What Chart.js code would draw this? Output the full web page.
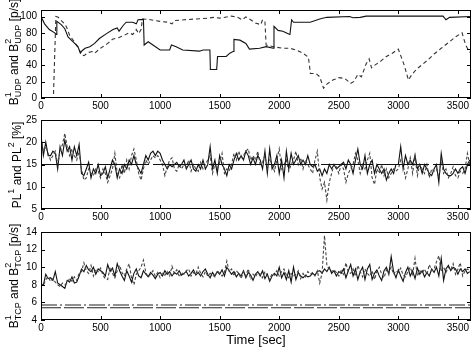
<!DOCTYPE html>
<html>
<head>
<meta charset="utf-8">
<script src="https://cdn.jsdelivr.net/npm/chart.js@4.4.0/dist/chart.umd.min.js"></script>
<style>
  html, body { margin: 0; padding: 0; background: #fff; }
  #wrap { position: relative; width: 474px; height: 348px; }
  .panel { position: absolute; left: 0; width: 474px; }
</style>
</head>
<body>
<div id="wrap">
  <div class="panel" style="top:0;height:110px"><canvas id="udp"></canvas></div>
  <div class="panel" style="top:110px;height:112px"><canvas id="pl"></canvas></div>
  <div class="panel" style="top:222px;height:126px"><canvas id="tcp"></canvas></div>
</div>
<script>
// ---- data ----
const xTicks = [0, 500, 1000, 1500, 2000, 2500, 3000, 3500];
const xMax = 3610;

// UDP bandwidth, flow 1 (solid) and flow 2 (dashed) [p/s]
const udpTime1 = [0, 30, 70, 115, 128, 133, 170, 200, 227, 270, 310, 330, 345, 370, 410, 450, 490, 550, 605, 640, 655, 690, 715, 770, 800, 815, 860, 866, 900, 940, 1000, 1080, 1095, 1135, 1190, 1330, 1360, 1418, 1422, 1475, 1482, 1555, 1585, 1612, 1620, 1670, 1720, 1750, 1835, 1890, 1950, 1956, 1990, 2030, 2075, 2090, 2104, 2120, 2260, 2340, 2400, 2590, 2620, 2680, 2730, 3375, 3400, 3430, 3610];
const udpB1 = [100, 91, 84, 80, 78, 94, 90, 85, 75, 69, 63, 55, 58, 61, 63, 67, 73, 79, 84, 86, 82, 89, 93, 93, 91, 96, 96.5, 65, 69, 65, 59, 59, 65, 63, 59, 57.5, 59, 59, 35, 35, 51, 51, 55, 57, 72, 71, 67, 60, 61, 63, 61, 88, 83, 82, 79, 78, 96, 93, 93, 97, 99, 100, 98.5, 99, 100.5, 100.5, 96, 99, 100];
const udpTime2 = [105, 125, 145, 170, 200, 215, 240, 280, 320, 340, 360, 400, 430, 450, 500, 560, 600, 650, 700, 740, 770, 800, 820, 840, 852, 900, 1000, 1070, 1100, 1120, 1200, 1300, 1400, 1450, 1500, 1600, 1650, 1690, 1720, 1760, 1800, 1845, 1860, 1880, 1890, 1950, 2030, 2090, 2140, 2200, 2245, 2262, 2310, 2340, 2372, 2400, 2450, 2500, 2550, 2600, 2625, 2660, 2690, 2730, 2755, 2775, 2800, 2850, 2900, 2950, 3000, 3020, 3050, 3085, 3110, 3150, 3200, 3250, 3300, 3360, 3420, 3480, 3535, 3565, 3600];
const udpB2 = [5, 100, 99, 95, 91, 87, 77, 69, 60, 53, 52, 56, 57, 55, 61, 67, 72, 74, 77, 80, 78, 84, 79, 84, 97, 96.5, 94, 93, 91, 95, 96, 97, 98, 99, 98, 100.5, 99, 96, 99.5, 96, 92, 90, 96, 94, 65, 63, 61, 61, 59, 55, 50, 30, 30, 26, 12, 17, 22, 25, 24, 18, 20, 29, 26, 42, 48, 37, 40, 45, 51, 55, 60, 52, 40, 22, 28, 35, 41, 47, 54, 61, 68, 75, 80, 65, 56];

// PL and TCP series sampled every 20 s, t = 0 .. 3600
const sampleStep = 20;
const plTarget = 15;
const pl1 = [
  21.5, 17, 20, 17, 17, 18, 17.5, 14, 19, 17,
  20.5, 18, 19, 16, 19, 17, 19.5, 13, 12.5, 14,
  15.5, 12, 14, 13, 15, 12.5, 13, 14.5, 12, 14,
  16, 15, 12, 14, 13, 15, 14, 16, 15, 17,
  15, 14, 13, 15, 17, 16, 17.5, 18, 17, 18,
  17.5, 16, 15, 14, 15, 14.5, 15, 15.5, 14.5, 15,
  16, 14, 15, 16, 14, 13.5, 15, 14, 16, 14,
  15, 19, 14, 16, 13, 17, 15, 14, 12.5, 15,
  14, 16, 17.5, 16, 17, 16, 18, 17, 15, 16.5,
  15, 17, 16, 14, 18, 13, 18.5, 14, 15, 17,
  13, 16, 12, 18, 14, 17.5, 15, 16, 17, 15,
  16, 15, 17, 15, 14.5, 15, 13.5, 14, 12.5, 14,
  13, 15, 14, 15, 14, 14.5, 15, 15.5, 14, 16,
  15, 13, 16, 18.5, 15, 14, 17, 13, 15, 16,
  13, 15, 14, 13, 14, 11.5, 13, 14, 13, 15,
  15, 19, 14, 17, 15, 16, 15, 17, 14, 15,
  13, 15, 14, 13, 12.5, 14, 15, 11, 17.5, 14,
  13, 12.5, 12.5, 13, 14, 13, 14, 14.5, 13, 15,
  16
];
const pl2 = [
  21, 18, 19, 17.5, 16, 17, 18, 15, 18, 19.5,
  22, 19, 17, 18.5, 17, 16, 18, 14, 11.5, 12,
  14, 13, 12.5, 14, 13.5, 12, 14, 13, 11, 12.5,
  14, 17.5, 13, 12, 15, 13, 16, 14, 17, 18.5,
  16, 13, 11.5, 14, 16, 15, 16, 17, 16.5, 17,
  16, 15, 12.5, 14.5, 16, 16.5, 14, 13.5, 15, 14,
  15, 14.5, 16, 13.5, 15, 14, 13.5, 15.5, 14, 15,
  16, 17, 13, 15, 14, 15.5, 17.5, 13, 14, 13.5,
  15, 17.5, 16, 18, 16.5, 17, 18, 18.5, 16, 17,
  16, 18, 15, 15.5, 17, 14, 16, 15, 13.5, 16,
  18.5, 14, 15, 16, 13.5, 15, 16, 18, 15, 16.5,
  14, 16, 15, 14, 13, 16, 18, 12, 9.5, 11,
  7, 11, 13, 15, 14.5, 13, 15, 14, 11, 13,
  14, 15, 17.5, 16, 13, 15, 14, 16, 17.5, 12,
  10.5, 14, 13, 15, 12.5, 14, 12, 13, 14, 13.5,
  14, 16, 15, 12, 14, 16.5, 13, 17, 12.5, 15,
  14, 13, 15, 12, 14, 13.5, 14, 12, 16, 13,
  14, 12, 13, 14.5, 12.5, 12, 13.5, 13, 14, 17.5,
  15
];

const tcpRef1 = 5.7;
const tcpRef2 = 5.4;
const tcp1 = [
  8.0, 8.0, 9.2, 8.7, 8.8, 8.5, 9.5, 8.2, 8.0, 7.8,
  7.6, 8.5, 8.3, 8.9, 8.2, 8.3, 9.0, 9.8, 9.5, 10.2,
  9.7, 9.5, 10.0, 9.2, 9.8, 9.6, 9.4, 9.0, 10.3, 9.5,
  9.9, 9.0, 10.4, 9.6, 9.0, 8.5, 9.6, 9.0, 8.3, 9.3,
  9.8, 9.0, 8.8, 9.6, 9.2, 8.9, 9.4, 9.1, 8.7, 9.2,
  9.4, 9.0, 9.6, 9.2, 9.5, 9.0, 9.4, 9.2, 9.6, 9.1,
  9.3, 9.5, 9.0, 9.3, 9.7, 9.1, 9.4, 9.0, 9.5, 9.8,
  9.2, 8.8, 9.4, 9.0, 9.5, 9.2, 9.7, 9.0, 10.0, 9.6,
  9.2, 9.5, 8.9, 9.3, 9.0, 9.6, 8.8, 9.4, 9.1, 8.5,
  9.2, 9.5, 9.0, 9.6, 8.7, 9.2, 8.4, 9.0, 9.3, 9.0,
  10.0, 8.8, 9.4, 8.6, 9.6, 8.3, 10.0, 8.6, 9.4, 9.0,
  8.8, 9.1, 8.9, 9.0, 9.3, 9.1, 9.5, 9.6, 9.3, 9.8,
  9.5, 10.0, 9.3, 9.6, 9.0, 9.5, 9.3, 9.8, 8.8, 9.6,
  10.3, 9.0, 9.8, 8.6, 9.5, 10.0, 8.6, 9.8, 10.3, 8.6,
  9.3, 9.7, 9.0, 8.5, 9.6, 10.0, 9.2, 11.2, 9.5, 8.8,
  9.7, 9.0, 8.4, 9.4, 10.0, 9.0, 9.6, 8.7, 9.9, 9.2,
  9.6, 8.9, 9.4, 9.0, 9.8, 9.4, 10.0, 9.0, 11.0, 8.5,
  9.8, 10.2, 9.6, 10.0, 9.8, 9.2, 9.8, 9.5, 9.8, 9.3,
  9.5
];
const tcp2 = [
  8.2, 7.9, 8.6, 8.9, 8.4, 8.7, 8.3, 8.0, 7.8, 8.2,
  8.0, 8.2, 8.7, 8.4, 8.9, 8.5, 9.3, 9.5, 10.5, 9.6,
  9.3, 10.2, 9.0, 9.8, 9.5, 9.9, 9.1, 8.7, 8.6, 10.0,
  9.3, 8.8, 9.6, 10.2, 9.4, 9.0, 9.8, 10.4, 8.8, 8.0,
  9.2, 9.6, 10.0, 10.8, 9.4, 8.9, 9.2, 9.6, 9.0, 9.4,
  8.8, 9.3, 9.1, 9.5, 9.0, 10.1, 9.3, 9.7, 8.9, 9.4,
  9.2, 9.6, 9.8, 9.0, 9.4, 9.2, 10.0, 9.3, 8.9, 9.5,
  9.0, 9.3, 9.1, 8.9, 9.6, 9.3, 9.0, 9.4, 10.7, 9.5,
  9.8, 9.0, 9.6, 9.3, 8.7, 9.5, 9.0, 9.8, 8.6, 9.2,
  8.9, 9.4, 9.2, 8.8, 9.5, 9.0, 8.6, 9.3, 9.1, 9.6,
  9.0, 9.5, 9.8, 9.1, 8.8, 9.3, 9.0, 9.2, 9.6, 8.7,
  9.3, 8.9, 9.5, 9.2, 9.4, 9.0, 9.6, 8.2, 9.4, 13.6,
  10.2, 9.8, 9.5, 9.7, 9.4, 9.0, 9.6, 9.2, 10.5, 9.4,
  9.3, 9.8, 9.0, 10.2, 9.5, 8.9, 9.8, 9.3, 9.0, 9.6,
  8.6, 9.5, 10.0, 9.2, 8.8, 9.7, 9.3, 10.0, 9.2, 9.6,
  9.4, 9.9, 9.1, 8.9, 9.5, 10.0, 9.2, 11.0, 9.0, 9.6,
  9.3, 9.8, 9.2, 10.3, 9.6, 9.8, 10.6, 11.3, 9.5, 10.0,
  9.4, 10.0, 9.7, 10.4, 9.2, 9.8, 10.5, 9.0, 9.6, 9.8,
  9.6
];

const udpTicks = [0, 20, 40, 60, 80, 100];
const plTicks = [5, 10, 15, 20, 25];
const tcpTicks = [4, 6, 8, 10, 12, 14];

// ---- helpers ----
const FONT = '"Liberation Sans", Arial, Helvetica, sans-serif';
const tickFont = { family: FONT, size: 10 };

function pairs(ts, vs) {
  return vs.map((v, i) => ({ x: ts[i], y: v }));
}
function sampled(vs) {
  return vs.map((v, i) => ({ x: i * sampleStep, y: v }));
}
function flat(v) {
  return [{ x: 0, y: v }, { x: xMax, y: v }];
}
function line(data, dash, color) {
  return {
    data: data,
    borderColor: color || '#111',
    borderWidth: 1.1,
    borderDash: dash || [],
    pointRadius: 0,
    tension: 0,
    fill: false
  };
}

// box with inward ticks on all four sides
const framePlugin = {
  id: 'frame',
  afterDraw(chart) {
    const { ctx, chartArea: a, scales } = chart;
    const x = scales.x, y = scales.y;
    ctx.save();
    ctx.strokeStyle = '#000';
    ctx.lineWidth = 1;
    ctx.strokeRect(a.left + 0.5, a.top + 0.5, a.right - a.left - 1, a.bottom - a.top - 1);
    ctx.beginPath();
    x.ticks.forEach(t => {
      const px = Math.round(x.getPixelForValue(t.value)) + 0.5;
      ctx.moveTo(px, a.bottom); ctx.lineTo(px, a.bottom - 4);
      ctx.moveTo(px, a.top); ctx.lineTo(px, a.top + 4);
    });
    y.ticks.forEach(t => {
      const py = Math.round(y.getPixelForValue(t.value)) + 0.5;
      ctx.moveTo(a.left, py); ctx.lineTo(a.left + 4, py);
      ctx.moveTo(a.right, py); ctx.lineTo(a.right - 4, py);
    });
    ctx.stroke();
    ctx.restore();
  }
};

// rotated y title with stacked super/subscripts
const yTitlePlugin = {
  id: 'ytitle',
  afterDraw(chart, args, opts) {
    if (!opts.parts) return;
    const ctx = chart.ctx;
    const main = '12px ' + FONT, small = '9px ' + FONT;
    ctx.save();
    let total = 0;
    opts.parts.forEach(p => {
      if (p.n) { ctx.font = main; total += ctx.measureText(p.n).width; }
      else {
        ctx.font = small;
        total += Math.max(ctx.measureText(p.sup || '').width, ctx.measureText(p.sub || '').width);
      }
    });
    ctx.translate(opts.x, opts.y);
    ctx.rotate(-Math.PI / 2);
    ctx.fillStyle = '#000';
    ctx.textBaseline = 'alphabetic';
    ctx.textAlign = 'left';
    let u = -total / 2;
    opts.parts.forEach(p => {
      if (p.n) {
        ctx.font = main;
        ctx.fillText(p.n, u, 0);
        u += ctx.measureText(p.n).width;
      } else {
        ctx.font = small;
        if (p.sup) ctx.fillText(p.sup, u, -7);
        if (p.sub) ctx.fillText(p.sub, u, 3);
        u += Math.max(ctx.measureText(p.sup || '').width, ctx.measureText(p.sub || '').width);
      }
    });
    ctx.restore();
  }
};

function makePanel(id, datasets, yMin, yMax, yTicks, padTop, xHeight, title, showTime) {
  return new Chart(document.getElementById(id), {
    type: 'line',
    data: { datasets: datasets },
    plugins: [framePlugin, yTitlePlugin],
    options: {
      responsive: true,
      maintainAspectRatio: false,
      animation: false,
      layout: { padding: { top: padTop, right: 3, left: 0, bottom: 0 } },
      plugins: {
        legend: { display: false },
        tooltip: { enabled: false },
        ytitle: title
      },
      scales: {
        x: {
          type: 'linear',
          min: 0,
          max: xMax,
          afterBuildTicks: s => { s.ticks = xTicks.map(v => ({ value: v })); },
          afterFit: s => { s.height = xHeight; },
          grid: { display: false, drawTicks: false },
          border: { display: false },
          ticks: {
            font: tickFont, color: '#000', padding: 2,
            maxRotation: 0, autoSkip: false,
            callback: v => String(v)
          },
          title: showTime
            ? { display: true, text: 'Time [sec]', color: '#000',
                font: { family: FONT, size: 13 }, padding: { top: 2, bottom: 0 } }
            : { display: false }
        },
        y: {
          type: 'linear',
          min: yMin,
          max: yMax,
          afterBuildTicks: s => { s.ticks = yTicks.map(v => ({ value: v })); },
          afterFit: s => { s.width = 41; },
          grid: { display: false, drawTicks: false },
          border: { display: false },
          ticks: {
            font: tickFont, color: '#000', padding: 4,
            autoSkip: false, callback: v => String(v)
          }
        }
      }
    }
  });
}

makePanel('udp', [
  line(pairs(udpTime1, udpB1), [], '#111'),
  line(pairs(udpTime2, udpB2), [4, 3], '#333')
], 0, 108, udpTicks, 9, 12, {
  x: 18, y: 52,
  parts: [{ n: 'B' }, { sup: '1', sub: 'UDP' }, { n: ' and B' }, { sup: '2', sub: 'UDP' }, { n: ' [p/s]' }]
}, false);

makePanel('pl', [
  line(flat(plTarget), [52, 4], '#111'),
  line(sampled(pl2), [3, 2], '#444'),
  line(sampled(pl1), [], '#111')
], 5, 25, plTicks, 10, 13, {
  x: 21, y: 55,
  parts: [{ n: 'PL' }, { sup: '1' }, { n: ' and PL' }, { sup: '2' }, { n: ' [%]' }]
}, false);

makePanel('tcp', [
  line(flat(tcpRef1), [16, 3, 2, 3], '#222'),
  line(flat(tcpRef2), [20, 3], '#222'),
  line(sampled(tcp2), [3, 2], '#444'),
  line(sampled(tcp1), [], '#111')
], 4, 14, tcpTicks, 8, 28, {
  x: 18, y: 54,
  parts: [{ n: 'B' }, { sup: '1', sub: 'TCP' }, { n: ' and B' }, { sup: '2', sub: 'TCP' }, { n: ' [p/s]' }]
}, true);
</script>
</body>
</html>
